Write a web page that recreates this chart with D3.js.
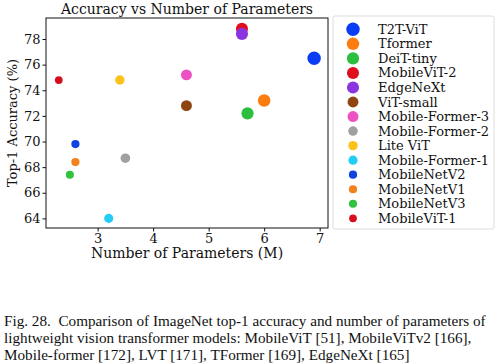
<!DOCTYPE html>
<html>
<head>
<meta charset="utf-8">
<script src="https://cdn.jsdelivr.net/npm/d3@7"></script>
<style>
  body { margin: 0; background: #fff; }
  text { font-family: "DejaVu Serif", serif; fill: #111; }
  text.caption { font-family: "Liberation Serif", serif; white-space: pre; }
</style>
</head>
<body>
<div id="chart"></div>
<script>
var models = ["T2T-ViT", "Tformer", "DeiT-tiny", "MobileViT-2", "EdgeNeXt", "ViT-small",
  "Mobile-Former-3", "Mobile-Former-2", "Lite ViT", "Mobile-Former-1",
  "MobileNetV2", "MobileNetV1", "MobileNetV3", "MobileViT-1"];
var params = [6.9, 6.0, 5.7, 5.6, 5.6, 4.6, 4.6, 3.5, 3.4, 3.2, 2.6, 2.6, 2.5, 2.3];
var accuracy = [76.5, 73.2, 72.2, 78.8, 78.4, 72.8, 75.2, 68.7, 74.8, 64.0, 69.8, 68.4, 67.4, 74.8];
var xTicks = [3, 4, 5, 6, 7];
var yTicks = [64, 66, 68, 70, 72, 74, 76, 78];
var captionLines = [
  "Fig. 28.  Comparison of ImageNet top-1 accuracy and number of parameters of",
  "lightweight vision transformer models: MobileViT [51], MobileViTv2 [166],",
  "Mobile-former [172], LVT [171], TFormer [169], EdgeNeXt [165]"
];

var colors = ["#0b3cf5", "#fb7d12", "#2cbf3e", "#de0e1c", "#8a35e0", "#8e4511",
  "#ec52c2", "#a0a0a0", "#fdc21a", "#22cdf6", "#1043e0", "#f3821d", "#31c23e", "#d60e1e"];

var svgWidth = 497;
var svgHeight = 364;
var margin = { top: 18, left: 46, width: 282, height: 210 };

var svg = d3.select("#chart")
  .append("svg")
  .attr("width", svgWidth)
  .attr("height", svgHeight);

var chartGroup = svg.append("g")
  .attr("transform", `translate(${margin.left}, ${margin.top})`);

var data = models.map(function(m, i) {
  return { name: m, params: params[i], acc: accuracy[i], color: colors[i] };
});

var xScale = d3.scaleLinear().domain([2.07, 7.15]).range([0, margin.width]);
var yScale = d3.scaleLinear().domain([63.25, 79.64]).range([margin.height, 0]);
var rScale = d3.scaleSqrt().domain([0, 6.9]).range([0, 6.7]);

chartGroup.append("g")
  .attr("transform", `translate(0, ${margin.height})`)
  .call(d3.axisBottom(xScale).tickValues(xTicks).tickFormat(d3.format("d")).tickSize(3.5).tickPadding(2))
  .call(g => g.select(".domain").remove());

chartGroup.append("g")
  .call(d3.axisLeft(yScale).tickValues(yTicks).tickFormat(d3.format("d")).tickSize(3.5).tickPadding(2))
  .call(g => g.select(".domain").remove());

chartGroup.selectAll(".tick text").attr("font-size", "13px").attr("fill", "#111");
chartGroup.selectAll(".tick line").attr("stroke", "#111");

chartGroup.append("rect")
  .attr("width", margin.width)
  .attr("height", margin.height)
  .attr("fill", "none")
  .attr("stroke", "#111")
  .attr("stroke-width", 1);

chartGroup.append("g")
  .selectAll("circle")
  .data(data)
  .enter()
  .append("circle")
  .attr("cx", d => xScale(d.params))
  .attr("cy", d => yScale(d.acc))
  .attr("r", d => rScale(d.params))
  .attr("fill", d => d.color);

// title and axis labels
svg.append("text")
  .attr("x", margin.left + margin.width / 2)
  .attr("y", 14)
  .attr("text-anchor", "middle")
  .attr("font-size", "14px")
  .text("Accuracy vs Number of Parameters");

svg.append("text")
  .attr("x", margin.left + margin.width / 2)
  .attr("y", 258)
  .attr("text-anchor", "middle")
  .attr("font-size", "14px")
  .text("Number of Parameters (M)");

svg.append("text")
  .attr("transform", "rotate(-90)")
  .attr("x", -(margin.top + margin.height / 2))
  .attr("y", 17)
  .attr("text-anchor", "middle")
  .attr("font-size", "13px")
  .text("Top-1 Accuracy (%)");

// legend
var legend = svg.append("g").attr("transform", "translate(333, 16)");
legend.append("rect")
  .attr("width", 161)
  .attr("height", 213)
  .attr("rx", 2)
  .attr("fill", "#fff")
  .attr("stroke", "#ddd");

var items = legend.selectAll(".item")
  .data(data)
  .enter()
  .append("g")
  .attr("transform", (d, i) => `translate(0, ${13.3 + i * 14.54})`);

items.append("circle")
  .attr("cx", 20)
  .attr("r", d => rScale(d.params))
  .attr("fill", d => d.color);

items.append("text")
  .attr("x", 45)
  .attr("y", 4.5)
  .attr("font-size", "13px")
  .text(d => d.name);

// caption
svg.append("g")
  .selectAll("text")
  .data(captionLines)
  .enter()
  .append("text")
  .attr("class", "caption")
  .attr("x", 4)
  .attr("y", (d, i) => 326 + i * 17)
  .attr("font-size", "15.2px")
  .text(d => d);
</script>
</body>
</html>
